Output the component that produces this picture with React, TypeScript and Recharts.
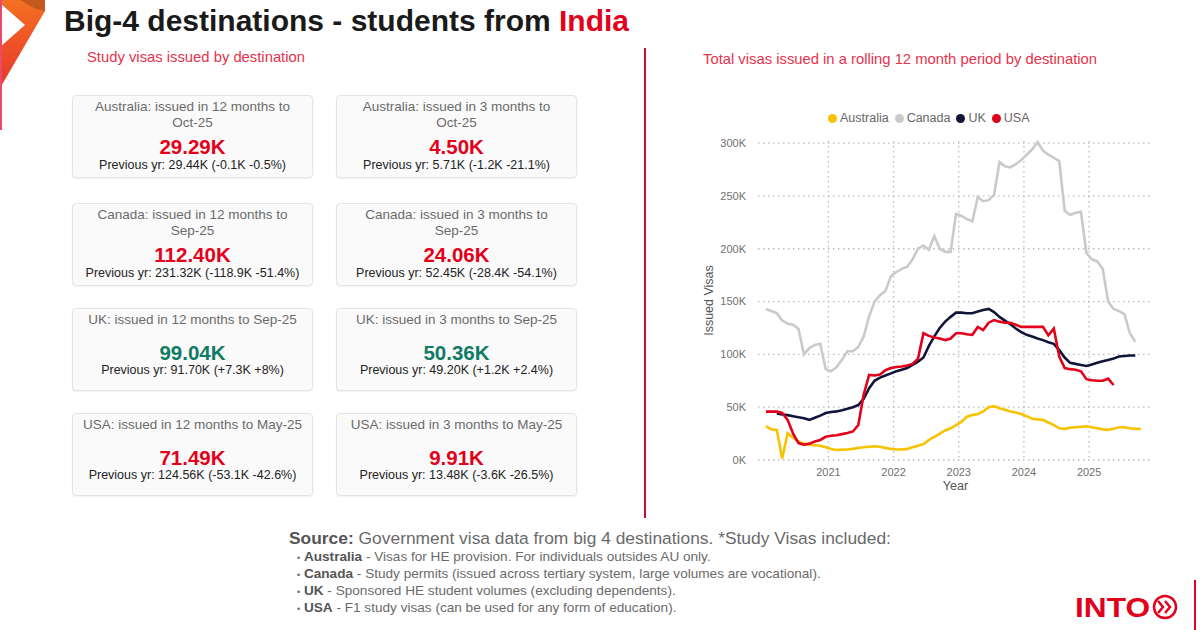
import React from "react";
import { LineChart, Line, CartesianGrid, XAxis, YAxis, Label } from "recharts";

// monthly points, rolling 12 month totals (thousands)
const months = [
  "2020-01", "2020-02", "2020-03", "2020-04", "2020-05", "2020-06", "2020-07", "2020-08", "2020-09", "2020-10", "2020-11", "2020-12",
  "2021-01", "2021-02", "2021-03", "2021-04", "2021-05", "2021-06", "2021-07", "2021-08", "2021-09", "2021-10", "2021-11", "2021-12",
  "2022-01", "2022-02", "2022-03", "2022-04", "2022-05", "2022-06", "2022-07", "2022-08", "2022-09", "2022-10", "2022-11", "2022-12",
  "2023-01", "2023-02", "2023-03", "2023-04", "2023-05", "2023-06", "2023-07", "2023-08", "2023-09", "2023-10", "2023-11", "2023-12",
  "2024-01", "2024-02", "2024-03", "2024-04", "2024-05", "2024-06", "2024-07", "2024-08", "2024-09", "2024-10", "2024-11", "2024-12",
  "2025-01", "2025-02", "2025-03", "2025-04", "2025-05", "2025-06", "2025-07", "2025-08", "2025-09", "2025-10",
];

const australia = [
  32, 29, 28.5, 1.5, 25.5, 21, 17.5, 15.5, 14.5, 14, 13.5, 12,
  10.5, 9.5, 9.8, 10, 10.5, 11.5, 12, 12.5, 13, 12.5, 11.5, 10.5,
  10, 10, 10.5, 12, 13.5, 15, 19, 22, 25, 28, 30, 33,
  36, 41, 42.5, 43.5, 46, 50, 51, 49, 47.5, 46, 45, 43.5,
  41.5, 39, 38.5, 38, 35.5, 33, 30, 29.5, 30.5, 31, 31.5, 32,
  31, 30, 29, 28.5, 29.5, 31, 31, 30, 29.5, 29.5,
];

const canada = [
  143, 141, 139, 132, 129, 128, 124, 100, 106, 109, 110, 86,
  84, 88, 95, 103, 103, 107, 117, 136, 150, 156, 160, 174,
  178, 181, 183, 190, 200, 203, 199, 212, 200, 197, 197, 233,
  231, 228, 226, 249, 245, 246, 251, 282, 278, 277, 280, 284,
  289, 294, 301, 293, 289, 286, 283, 236, 232, 234, 235, 196,
  190, 188, 181, 150, 143, 141, 138, 120, 112,
];

const uk = [
  null, null, 44, 43, 42.5, 41.5, 40.5, 39.5, 38, 40, 42, 44.5,
  45.5, 46, 47, 48.5, 50, 52, 58, 68, 75, 78, 80, 82,
  84, 85.5, 87, 90, 93, 97, 108, 117, 125, 131, 135.5, 139.5,
  139.5, 139, 139, 140.5, 142, 143, 140, 135.5, 132, 128.5, 124.5, 121,
  118.5, 117, 115, 113.5, 111.5, 110, 104, 97, 92, 91, 90, 89,
  90.5, 92, 93.5, 94.7, 96, 98, 98.5, 99, 99,
];

const usa = [
  45.8, 45.8, 45.8, 44.5, 38, 25, 16, 14.5, 15.5, 17.5, 19, 22,
  23, 23.5, 24.5, 25.5, 27, 33, 62, 80.5, 80, 81, 85, 87,
  88, 88.5, 89.5, 91, 96, 120, 117.5, 116, 115, 113.5, 115, 120,
  120, 119, 118.5, 126, 123, 130, 132.5, 131, 130, 130, 128, 126,
  126, 126, 126, 126, 118, 124.5, 98, 87, 86, 85.5, 84, 76.5,
  75.5, 75, 75, 77, 71,
];

const yTicks = [0, 50, 100, 150, 200, 250, 300];
const yearTicks = [2021, 2022, 2023, 2024, 2025];

const series = [
  { name: "Australia", values: australia, color: "#f7c300" },
  { name: "Canada", values: canada, color: "#cacaca" },
  { name: "UK", values: uk, color: "#12153a" },
  { name: "USA", values: usa, color: "#e3001b" },
];

// cards: left column = 12 months, right column = 3 months
const cardTitles = [
  "Australia: issued in 12 months to\nOct-25", "Australia: issued in 3 months to\nOct-25",
  "Canada: issued in 12 months to\nSep-25", "Canada: issued in 3 months to\nSep-25",
  "UK: issued in 12 months to Sep-25", "UK: issued in 3 months to Sep-25",
  "USA: issued in 12 months to May-25", "USA: issued in 3 months to May-25",
];
const cardValues = ["29.29K", "4.50K", "112.40K", "24.06K", "99.04K", "50.36K", "71.49K", "9.91K"];
const cardPrevious = [
  "Previous yr: 29.44K (-0.1K -0.5%)", "Previous yr: 5.71K (-1.2K -21.1%)",
  "Previous yr: 231.32K (-118.9K -51.4%)", "Previous yr: 52.45K (-28.4K -54.1%)",
  "Previous yr: 91.70K (+7.3K +8%)", "Previous yr: 49.20K (+1.2K +2.4%)",
  "Previous yr: 124.56K (-53.1K -42.6%)", "Previous yr: 13.48K (-3.6K -26.5%)",
];
const cardUp = [false, false, false, false, true, true, false, false];

const notes = [
  { name: "Australia", text: "Visas for HE provision. For individuals outsides AU only." },
  { name: "Canada", text: "Study permits (issued across tertiary system, large volumes are vocational)." },
  { name: "UK", text: "Sponsored HE student volumes (excluding dependents)." },
  { name: "USA", text: "F1 study visas (can be used for any form of education)." },
];

const FONT = "'Liberation Sans', Arial, sans-serif";
const RED = "#e3001b";

const chartData = months.map((m, i) => {
  const [y, mo] = m.split("-").map(Number);
  const row: Record<string, any> = { month: m, t: y + (mo - 0.5) / 12 };
  series.forEach((s) => {
    row[s.name] = s.values[i] ?? null;
  });
  return row;
});

function Card(props: { left: number; top: number; title: string; value: string; prev: string; color: string }) {
  const two = props.title.includes("\n");
  return (
    <div
      style={{
        position: "absolute", left: props.left, top: props.top, width: 241, height: 83,
        boxSizing: "border-box", border: "1px solid #e4e4e4", borderRadius: 4,
        background: "#fafafa", boxShadow: "0 1px 2px rgba(0,0,0,0.06)", textAlign: "center",
      }}
    >
      <div style={{ position: "absolute", left: 0, right: 0, top: 3, fontSize: 13.5, lineHeight: "16px", color: "#6b6b6b", whiteSpace: "pre-line" }}>
        {props.title}
      </div>
      <div style={{ position: "absolute", left: 0, right: 0, top: two ? 39 : 32, fontSize: 20.5, lineHeight: "24px", fontWeight: 700, color: props.color }}>
        {props.value}
      </div>
      <div style={{ position: "absolute", left: 0, right: 0, top: two ? 61 : 53, fontSize: 12.5, lineHeight: "16px", color: "#222" }}>
        {props.prev}
      </div>
    </div>
  );
}

export default function App() {
  const rowTops = [95, 203, 308, 413];
  const colLefts = [72, 336];

  return (
    <div style={{ position: "absolute", left: 0, top: 0, width: 1200, height: 630, background: "#fff", fontFamily: FONT, overflow: "hidden" }}>
      {/* corner logo */}
      <svg width={50} height={95} style={{ position: "absolute", left: 0, top: 0 }}>
        <defs>
          <linearGradient id="lg" x1="0" y1="0" x2="0" y2="1">
            <stop offset="0" stopColor="#f37021" />
            <stop offset="1" stopColor="#e8352c" />
          </linearGradient>
        </defs>
        <polygon points="0,0 45,0 45,11 0,88" fill="url(#lg)" />
        <polygon points="20,0 45,0 45,11 36,9" fill="#b8531d" opacity={0.8} />
        <polygon points="0,3 25,25 0,47" fill="#fff" />
      </svg>
      <div style={{ position: "absolute", left: 0, top: 0, width: 2, height: 130, background: "#ea4a68" }} />

      <div style={{ position: "absolute", left: 64, top: 3, fontSize: 30, lineHeight: "36px", fontWeight: 700, color: "#1a1a1a", whiteSpace: "nowrap" }}>
        Big-4 destinations - students from <span style={{ color: RED }}>India</span>
      </div>

      <div style={{ position: "absolute", left: 87, top: 48, fontSize: 14.8, lineHeight: "18px", color: "#e5334d", whiteSpace: "nowrap" }}>
        Study visas issued by destination
      </div>
      <div style={{ position: "absolute", left: 703, top: 50, fontSize: 14.8, lineHeight: "18px", color: "#e5334d", whiteSpace: "nowrap" }}>
        Total visas issued in a rolling 12 month period by destination
      </div>

      <div style={{ position: "absolute", left: 644, top: 48, width: 2, height: 470, background: "#c8102e" }} />

      {cardTitles.map((t, i) => (
        <Card
          key={t}
          left={colLefts[i % 2]}
          top={rowTops[Math.floor(i / 2)]}
          title={t}
          value={cardValues[i]}
          prev={cardPrevious[i]}
          color={cardUp[i] ? "#0f7b64" : RED}
        />
      ))}

      {/* legend */}
      <div style={{ position: "absolute", left: 828, top: 110, height: 16, display: "flex", alignItems: "center", gap: 6, fontSize: 12.5, color: "#666" }}>
        {series.map((s) => (
          <div key={s.name} style={{ display: "flex", alignItems: "center", gap: 3 }}>
            <span style={{ width: 9, height: 9, borderRadius: "50%", background: s.color, display: "inline-block" }} />
            <span>{s.name}</span>
          </div>
        ))}
      </div>

      <div style={{ position: "absolute", left: 690, top: 100 }}>
        <LineChart width={480} height={400} data={chartData} margin={{ top: 41, right: 17, left: 0, bottom: 0 }}>
          <CartesianGrid stroke="#b9b9c4" strokeWidth={1.3} strokeDasharray="1.5 3.5" syncWithTicks />
          <XAxis
            dataKey="t"
            type="number"
            domain={[2019.92, 2025.98]}
            ticks={yearTicks}
            tickFormatter={(v) => String(v)}
            axisLine={false}
            tickLine={false}
            tickSize={0}
            tickMargin={8}
            height={40}
            tick={{ fontSize: 11, fill: "#707070", fontFamily: FONT }}
          >
            <Label value="Year" position="insideBottom" offset={10} style={{ fontSize: 12.5, fill: "#555", fontFamily: FONT }} />
          </XAxis>
          <YAxis
            type="number"
            domain={[0, 302]}
            ticks={yTicks}
            tickFormatter={(v) => `${v}K`}
            axisLine={false}
            tickLine={false}
            tickSize={0}
            tickMargin={12}
            width={68}
            tick={{ fontSize: 11, fill: "#707070", fontFamily: FONT }}
          >
            <Label value="Issued Visas" angle={-90} position="insideLeft" offset={19} style={{ textAnchor: "middle", fontSize: 12.5, fill: "#555", fontFamily: FONT }} />
          </YAxis>
          {series.map((s) => (
            <Line
              key={s.name}
              dataKey={s.name}
              type="linear"
              stroke={s.color}
              strokeWidth={2.6}
              dot={false}
              activeDot={false}
              connectNulls={false}
              isAnimationActive={false}
            />
          ))}
        </LineChart>
      </div>

      {/* footnote */}
      <div style={{ position: "absolute", left: 289, top: 527, fontSize: 17.4, lineHeight: "22px", color: "#6a6a6a", whiteSpace: "nowrap" }}>
        <span style={{ color: "#555", fontWeight: 700 }}>Source:</span> Government visa data from big 4 destinations. *Study Visas included:
      </div>
      <div style={{ position: "absolute", left: 297, top: 549, fontSize: 13.6, lineHeight: "16px", color: "#6a6a6a", whiteSpace: "nowrap" }}>
        {notes.map((n) => (
          <div key={n.name}>
            <span style={{ fontSize: 9 }}>•</span> <span style={{ fontWeight: 700, color: "#555" }}>{n.name}</span> - {n.text}
          </div>
        ))}
      </div>

      {/* INTO mark */}
      <svg width={130} height={50} style={{ position: "absolute", left: 1070, top: 580 }}>
        <text x={5} y={37} fontSize={27} fontWeight={900} fill={RED} fontFamily={FONT} textLength={75} lengthAdjust="spacingAndGlyphs">
          INTO
        </text>
        <circle cx={95} cy={27} r={11} fill="none" stroke={RED} strokeWidth={2.5} />
        <polyline points="88,21 93,27 88,33" fill="none" stroke={RED} strokeWidth={2.5} />
        <polyline points="95,21 100,27 95,33" fill="none" stroke={RED} strokeWidth={2.5} />
        <rect x={124} y={0} width={2} height={50} fill="#e4002b" />
      </svg>
    </div>
  );
}
